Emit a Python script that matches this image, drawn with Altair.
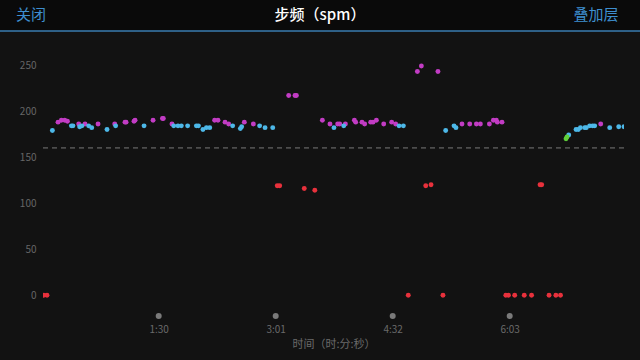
import altair as alt
import pandas as pd

# ---- data (time in seconds, cadence in spm) ----
mag_t = [11.7, 14.3, 16.9, 19.0, 27.8, 32.7, 42.8, 55.8, 63.8, 64.6, 70.8, 71.6, 85.6, 92.9, 93.6,
         100.3, 133.5, 136.1, 141.6, 144.4, 156.6, 163.6, 191.1, 196.0, 197.1, 217.3, 223.2, 229.2,
         230.8, 235.2, 242.2, 243.2, 248.1, 250.2, 254.9, 256.7, 259.3, 265.0, 271.2, 274.3, 291.2,
         294.3, 307.2, 325.9, 331.9, 337.1, 340.2, 347.2, 350.3, 352.6, 353.4, 357.0, 433.8]
mag_v = [188, 190, 190, 189, 186, 186, 186, 186, 188, 188, 189, 190, 190, 192, 192,
         186, 190, 190, 188, 186, 188, 186, 217, 217, 217, 190, 186, 186,
         186, 186, 190, 188, 188, 186, 188, 188, 190, 186, 188, 186, 243,
         249, 243, 186, 186, 186, 186, 186, 190, 190, 188, 188, 186]

cyan_t = [7.3, 22.1, 23.3, 28.5, 30.3, 35.5, 37.9, 49.8, 56.5, 78.6, 101.7, 105.0, 107.6, 112.5,
          119.3, 120.9, 124.4, 127.1, 129.7, 147.5, 153.5, 154.5, 168.5, 172.7, 178.7, 226.3,
          233.9, 276.9, 280.3, 313.2, 319.7, 321.2, 408.9, 414.6, 416.4, 418.0, 421.4, 422.6,
          425.2, 427.5, 429.1, 440.8, 447.8, 451.9]
cyan_v = [179, 184, 184, 183, 184, 184, 182, 180, 184, 184, 184, 184, 184, 184,
          184, 184, 180, 182, 182, 184, 181, 183, 184, 182, 182, 182,
          184, 184, 184, 179, 184, 182, 174, 180, 180, 182, 182, 182,
          184, 184, 184, 182, 183, 183]

green_t = [406.8, 407.6]
green_v = [170, 172]

red_t = [0.6, 3.1, 182.2, 184.1, 203.2, 211.4, 284.1, 297.7, 301.8, 311.1, 360.0, 362.0, 366.9,
         374.3, 380.0, 386.6, 387.9, 393.6, 398.9, 402.5]
red_v = [0, 0, 119, 119, 116, 114, 0, 119, 120, 0, 0, 0, 0,
         0, 0, 120, 120, 0, 0, 0]

tick_secs = [90, 181, 272, 363]
ref_value = 160

series_names = ["mag", "cyan", "green", "red"]
series_colors = ["#c23cc4", "#4db8e8", "#5fd03a", "#e8313c"]

rows = []
for name, ts, vs in [("mag", mag_t, mag_v), ("cyan", cyan_t, cyan_v),
                     ("green", green_t, green_v), ("red", red_t, red_v)]:
    for t, v in zip(ts, vs):
        rows.append({"t": t, "v": v, "s": name})
df = pd.DataFrame(rows)

FONT = "Noto Sans CJK SC"
W, H = 581, 257
XMAX = 451.9
YMIN, YMAX = -4, 275

xscale = alt.Scale(domain=[0, XMAX], nice=False, zero=False)
yscale = alt.Scale(domain=[YMIN, YMAX], nice=False, zero=False)

label_expr = ("floor(datum.value/60) + ':' + (datum.value % 60 < 10 ? '0' : '') + (datum.value % 60)")

points = alt.Chart(df).mark_circle(size=24, opacity=1, clip=True).encode(
    x=alt.X("t:Q", scale=xscale,
            axis=alt.Axis(values=tick_secs, labelExpr=label_expr, title="时间（时:分:秒）",
                          grid=False, domain=False, ticks=False, labelPadding=25,
                          labelColor="#6a6a6a", labelFontSize=10, labelFont=FONT,
                          titleColor="#6a6a6a", titleFontSize=11, titleFont=FONT,
                          titleFontWeight="normal", titlePadding=4)),
    y=alt.Y("v:Q", scale=yscale,
            axis=alt.Axis(values=[0, 50, 100, 150, 200, 250], title=None, grid=False,
                          domain=False, ticks=False, labelPadding=7, labelColor="#666666",
                          labelFontSize=10, labelFont=FONT)),
    color=alt.Color("s:N", scale=alt.Scale(domain=series_names, range=series_colors), legend=None),
)

ref = alt.Chart(pd.DataFrame({"v": [ref_value]})).mark_rule(
    color="#7a7a7a", strokeDash=[5, 4], strokeWidth=1
).encode(y=alt.Y("v:Q", scale=yscale))

dots = alt.Chart(pd.DataFrame({"t": tick_secs})).mark_circle(
    size=36, color="#7a7a7a", opacity=1
).encode(x=alt.X("t:Q", scale=xscale), y=alt.value(274))

one = pd.DataFrame({"a": [0]})
header_bg = alt.Chart(one).mark_rect(color="#0a0a0a").encode(
    x=alt.value(-43), x2=alt.value(597), y=alt.value(-42), y2=alt.value(-11))
header_line = alt.Chart(one).mark_rule(color="#3a7db0", strokeWidth=1.5).encode(
    x=alt.value(-43), x2=alt.value(597), y=alt.value(-11))
t_left = alt.Chart(one).mark_text(text="关闭", font=FONT, fontSize=15, color="#3e8fd0",
                                  align="center", baseline="middle").encode(
    x=alt.value(-12), y=alt.value(-27))
t_title = alt.Chart(one).mark_text(text="步频（spm）", font=FONT, fontSize=15, color="#ffffff",
                                   fontWeight=500, align="center", baseline="middle").encode(
    x=alt.value(277), y=alt.value(-27))
t_right = alt.Chart(one).mark_text(text="叠加层", font=FONT, fontSize=15, color="#3e8fd0",
                                   align="center", baseline="middle").encode(
    x=alt.value(553), y=alt.value(-27))

chart = alt.layer(header_bg, header_line, t_left, t_title, t_right, ref, dots, points).properties(
    width=W, height=H,
    autosize=alt.AutoSizeParams(type="none"),
    padding={"left": 43, "top": 42, "right": 16, "bottom": 61},
    background="#121212",
).configure_view(stroke=None)

chart.save("out.html", embed_options={"renderer": "svg", "actions": False})
